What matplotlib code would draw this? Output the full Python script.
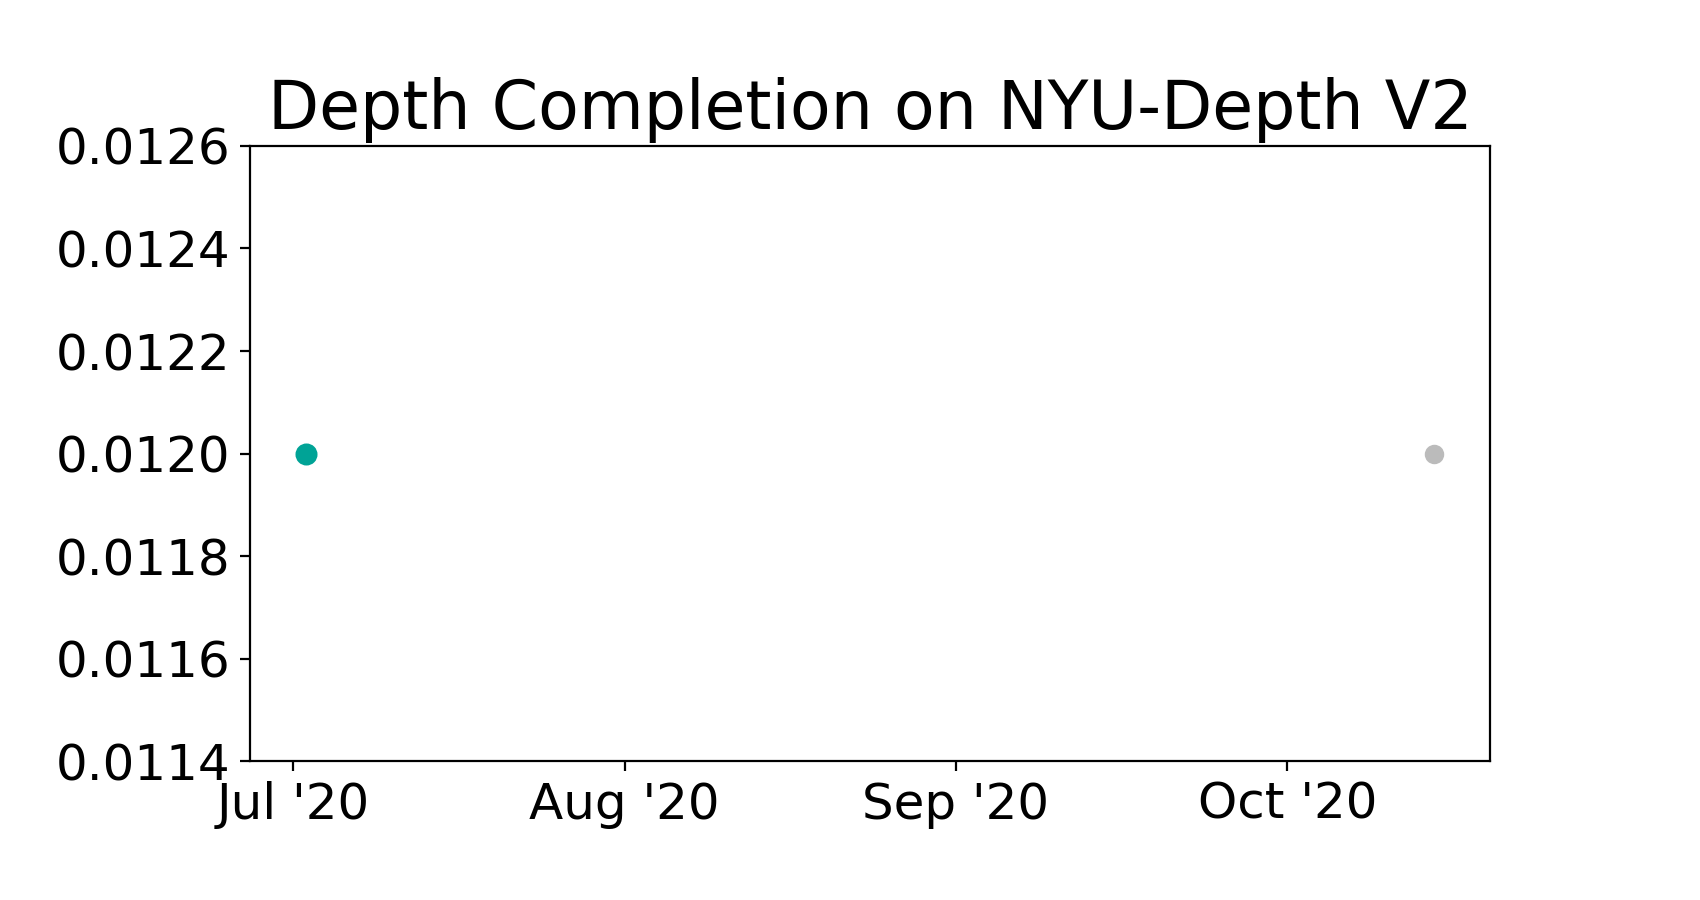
import matplotlib
matplotlib.use("Agg")
import matplotlib.pyplot as plt
from matplotlib.ticker import MultipleLocator

# chart data (x as decimal years)
sota_x = [2020.5033]
sota_values = [0.0120]
other_x = [2020.7868]
other_values = [0.0120]

tick_years = [2020 + 6 / 12, 2020 + 7 / 12, 2020 + 8 / 12, 2020 + 9 / 12]
tick_labels = ["Jul '20", "Aug '20", "Sep '20", "Oct '20"]

plt.rcParams['font.size'] = 20

fig = plt.figure(figsize=(8.5, 4.5), dpi=200)
ax = fig.add_axes([0.147, 0.154, 0.7295, 0.684])

ax.scatter(other_x, other_values, s=36, color='#bbbbbb', zorder=2)
ax.scatter(sota_x, sota_values, s=48, color='#00a396', zorder=3)

ax.set_xticks(tick_years)
ax.set_xticklabels(tick_labels)
ax.set_ylim(0.0114, 0.0126)
ax.yaxis.set_major_locator(MultipleLocator(0.0002))
ax.tick_params(labelsize=18)

ax.set_title("Depth Completion on NYU-Depth V2")

fig.savefig("out.png", dpi=200)
